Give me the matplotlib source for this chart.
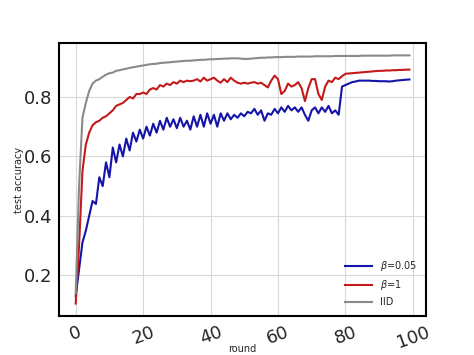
import matplotlib
matplotlib.use("Agg")
import matplotlib.pyplot as plt
import numpy as np

rounds = list(range(100))

beta005 = [0.13, 0.22, 0.31, 0.35, 0.40, 0.45, 0.44, 0.53, 0.50, 0.58,
           0.53, 0.63, 0.58, 0.64, 0.60, 0.66, 0.62, 0.68, 0.65, 0.69,
           0.66, 0.70, 0.67, 0.71, 0.68, 0.72, 0.69, 0.73, 0.70, 0.725,
           0.695, 0.73, 0.70, 0.72, 0.69, 0.735, 0.70, 0.74, 0.70, 0.745,
           0.71, 0.74, 0.70, 0.745, 0.72, 0.745, 0.725, 0.74, 0.73, 0.745,
           0.735, 0.75, 0.745, 0.76, 0.74, 0.755, 0.72, 0.745, 0.74, 0.76,
           0.745, 0.765, 0.75, 0.77, 0.755, 0.765, 0.75, 0.765, 0.74, 0.72,
           0.755, 0.765, 0.745, 0.765, 0.75, 0.77, 0.745, 0.755, 0.74, 0.835,
           0.84, 0.845, 0.85, 0.852, 0.855, 0.855, 0.855, 0.855, 0.854, 0.854,
           0.853, 0.853, 0.853, 0.852, 0.853, 0.855, 0.856, 0.857, 0.858, 0.859]

beta1 = [0.105, 0.30, 0.55, 0.64, 0.68, 0.705, 0.715, 0.72, 0.73, 0.735,
         0.745, 0.755, 0.77, 0.775, 0.78, 0.79, 0.80, 0.795, 0.81, 0.81,
         0.815, 0.81, 0.825, 0.83, 0.825, 0.84, 0.835, 0.845, 0.84, 0.85,
         0.845, 0.855, 0.85, 0.855, 0.853, 0.855, 0.86, 0.852, 0.865, 0.855,
         0.86, 0.865, 0.855, 0.848, 0.86, 0.85, 0.865, 0.855, 0.848, 0.845,
         0.848, 0.845, 0.848, 0.85, 0.845, 0.848, 0.84, 0.832, 0.855, 0.872,
         0.86, 0.81, 0.82, 0.845, 0.835, 0.84, 0.85, 0.83, 0.786, 0.83,
         0.86, 0.86, 0.81, 0.79, 0.835, 0.855, 0.85, 0.865, 0.86, 0.87,
         0.878, 0.879, 0.88, 0.881, 0.882, 0.883, 0.884, 0.885, 0.886, 0.887,
         0.888, 0.888, 0.889, 0.889, 0.89, 0.89, 0.891, 0.891, 0.892, 0.892]

iid = [0.14, 0.50, 0.73, 0.78, 0.82, 0.845, 0.855, 0.86, 0.868, 0.875,
       0.88, 0.882, 0.888, 0.89, 0.893, 0.895, 0.898, 0.90, 0.902, 0.904,
       0.906, 0.908, 0.91, 0.911, 0.912, 0.914, 0.915, 0.916, 0.917, 0.918,
       0.919, 0.92, 0.921, 0.922, 0.922, 0.923, 0.924, 0.925, 0.925, 0.926,
       0.927, 0.927, 0.928, 0.928, 0.929, 0.929, 0.93, 0.93, 0.93, 0.929,
       0.928, 0.928, 0.929, 0.93, 0.931, 0.932, 0.932, 0.933, 0.933, 0.934,
       0.934, 0.934, 0.935, 0.935, 0.935, 0.935, 0.936, 0.936, 0.936, 0.936,
       0.936, 0.937, 0.937, 0.937, 0.937, 0.937, 0.937, 0.938, 0.938, 0.938,
       0.938, 0.938, 0.938, 0.938, 0.938, 0.939, 0.939, 0.939, 0.939, 0.939,
       0.939, 0.939, 0.939, 0.939, 0.94, 0.94, 0.94, 0.94, 0.94, 0.94]

labels = [r"$\beta$=0.05", r"$\beta$=1", "IID"]
colors = ["#1414a8", "#c41a1a", "#8a8a8a"]

fig = plt.figure(figsize=(4.74, 3.55), dpi=100)
ax = fig.add_axes([0.1245, 0.110, 0.7745, 0.769])

for ys, lab, c in zip([beta005, beta1, iid], labels, colors):
    ax.plot(rounds, ys, color=c, lw=1.5, label=lab)

ax.grid(True, color="#d8d8d8", lw=0.8)
ax.set_axisbelow(True)
for s in ax.spines.values():
    s.set_color("black")
    s.set_linewidth(1.5)
ax.tick_params(length=0, labelsize=13, colors="#262626", pad=5)
ax.set_xticks([0, 20, 40, 60, 80, 100])
ax.set_yticks([0.2, 0.4, 0.6, 0.8])
for t in ax.get_xticklabels():
    t.set_rotation(20)
ax.set_xlabel("round", fontsize=7, color="#262626")
ax.xaxis.set_label_coords(0.5, -0.103)
ax.set_ylabel("test accuracy", fontsize=7, color="#262626")
ax.yaxis.set_label_coords(-0.095, 0.5)
ax.legend(loc="lower right", frameon=False, fontsize=7, handlelength=2.8,
          labelcolor="#262626")

fig.savefig("out.png", dpi=100)
